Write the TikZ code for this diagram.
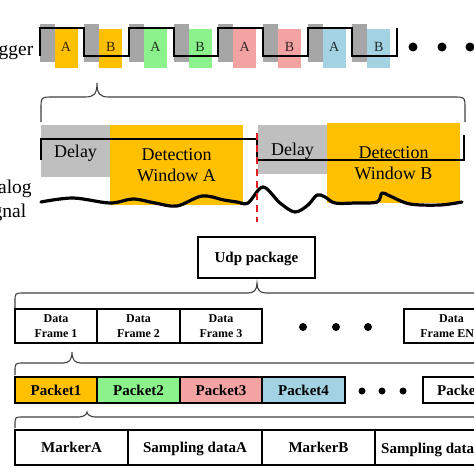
\documentclass[tikz,border=0pt]{standalone}
\usepackage{fontspec}
\setmainfont{Liberation Serif}
\definecolor{cOrange}{HTML}{FFC000}
\definecolor{cGreen}{HTML}{8CF28C}
\definecolor{cPink}{HTML}{F4A3A3}
\definecolor{cBlue}{HTML}{A3D3E2}
\definecolor{cGrayT}{HTML}{A6A6A6}
\definecolor{cGrayD}{HTML}{BFBFBF}
\definecolor{cBrace}{HTML}{404040}
\definecolor{cRed}{HTML}{E02020}
\tikzset{
  tgray/.style={fill=cGrayT, draw=none, minimum width=15pt, minimum height=38pt, inner sep=0pt, outer sep=0pt, anchor=north west},
  tcol/.style={fill=#1, draw=none, minimum width=23pt, minimum height=39pt, inner sep=0pt, outer sep=0pt, anchor=north west,
    font=\fontsize{14}{16}\selectfont, text height=9.5pt, text depth=3.5pt, text=black!80!#1},
  sqline/.style={line width=2pt, black},
  lbl/.style={inner sep=0pt, font=\fontsize{19.5}{22}\selectfont},
  delaybox/.style={fill=cGrayD, draw=none, inner sep=0pt, outer sep=0pt, anchor=north west, minimum width=69pt,
    font=\fontsize{18}{21}\selectfont, text height=12.2pt, text depth=0pt},
  winbox/.style={fill=cOrange, draw=none, inner sep=0pt, outer sep=0pt, anchor=north west, minimum width=133pt, minimum height=80pt,
    align=center, font=\fontsize{18}{21}\selectfont},
  wave/.style={line width=3.2pt, black, line cap=round, line join=round},
  bracel/.style={line width=1.1pt, cBrace},
  bbox/.style={draw, line width=1.5pt, fill=white, inner sep=0pt, outer sep=0pt, anchor=north west,
    font=\bfseries\fontsize{15}{18}\selectfont, text height=10.5pt, text depth=0pt},
  btext/.style={anchor=base west, inner sep=0pt, font=\bfseries\fontsize{15}{18}\selectfont},
  dfbox/.style={draw, line width=1.5pt, fill=white, inner sep=0pt, outer sep=0pt, anchor=north west,
    minimum width=82pt, minimum height=34pt, align=center, font=\bfseries\fontsize{12}{15}\selectfont},
  dotc/.style={black}
}
\newcommand\bracepath[7]{% L R Y B T Yt r
  \draw[bracel] (#1,#4) -- (#1,#3+#7) .. controls (#1,#3) .. (#1+#7,#3) -- (#5-#7,#3)
    .. controls (#5-3,#3) and (#5,#3-3) .. (#5,#6)
    .. controls (#5,#3-3) and (#5+3,#3) .. (#5+#7,#3) -- (#2-#7,#3)
    .. controls (#2,#3) .. (#2,#3+#7) -- (#2,#4);}
\begin{document}
\begin{tikzpicture}[x=1pt,y=-1pt]
\useasboundingbox (0,0) rectangle (474,474);
\clip (0,0) rectangle (474,474);
\fill[white] (0,0) rectangle (474,474);

% ---------- trigger row ----------
\foreach \i/\c/\l in {0/cOrange/A,1/cOrange/B,2/cGreen/A,3/cGreen/B,4/cPink/A,5/cPink/B,6/cBlue/A,7/cBlue/B}{
  \pgfmathsetmacro\ex{39.5+44.7*\i}
  \node[tgray] (g\i) at (\ex,24) {};
  \node[tcol=\c] (c\i) at (\ex+15,29) {\l};
}
\draw[sqline] (39.5,56) -- (39.5,28) -- (84.2,28) -- (84.2,56) -- (128.9,56) -- (128.9,28) -- (173.6,28) -- (173.6,56)
  -- (218.3,56) -- (218.3,28) -- (263,28) -- (263,56) -- (307.7,56) -- (307.7,28) -- (352.4,28) -- (352.4,56)
  -- (397.1,56) -- (397.1,28);
\fill[dotc] (413,47) circle (4.5) (442,47) circle (4.5) (470,47) circle (4.5);
\node[lbl, anchor=base east] (trig) at (33.5,55.5) {Trigger};

% ---------- brace over first period ----------
\bracepath{41}{465}{97}{122}{97}{83}{12}

% ---------- delay / detection windows ----------
\node[delaybox, minimum height=52pt] (d1) at (41,125) {Delay};
\node[winbox] (wA) at (110,125) {Detection\\Window A};
\node[delaybox, minimum height=49pt] (d2) at (258,125) {Delay};
\node[winbox] (wB) at (327,123) {Detection\\Window B};
\draw[sqline] (41,160) -- (41,139) -- (257,139) -- (257,160) -- (464,160) -- (464,135);
\draw[wave] plot[smooth, tension=0.55] coordinates {(41,202) (73,198) (110,203) (133,199) (155,203) (177,206) (202,196)
  (224,200) (237,202) (248,203) (263,187) (280,203) (295,212) (308,205) (317,195) (325,197) (335,203) (355,203)
  (377,202) (382,193) (390,196) (410,204) (440,205) (462,202)};
\draw[cRed, line width=1.4pt, dash pattern=on 7pt off 5pt] (257,133) -- (257,222);
\node[lbl, anchor=base] (an1) at (3,193) {Analog};
\node[lbl, anchor=base] (an2) at (3,217) {signal};

% ---------- UDP package ----------
\node[bbox, minimum width=117pt, minimum height=41pt] (udp) at (198,237) {Udp package};
\bracepath{15}{520}{293}{308}{257}{283}{9}
\node[dfbox] (df1) at (15,309) {Data\\Frame 1};
\node[dfbox, minimum width=83pt] (df2) at (97,309) {Data\\Frame 2};
\node[dfbox] (df3) at (180,309) {Data\\Frame 3};
\fill[dotc] (303,327) circle (4) (336,327) circle (4) (368,327) circle (4);
\node[dfbox, minimum width=95pt] (dfe) at (404,309) {Data\\Frame END};

% ---------- packets ----------
\bracepath{15}{520}{363}{375}{72}{352}{9}
\node[bbox, fill=cOrange, minimum width=82pt, minimum height=26pt] (p1) at (15,377) {Packet1};
\node[bbox, fill=cGreen, minimum width=83pt, minimum height=26pt] (p2) at (97,377) {Packet2};
\node[bbox, fill=cPink, minimum width=82pt, minimum height=26pt] (p3) at (180,377) {Packet3};
\node[bbox, fill=cBlue, minimum width=83pt, minimum height=26pt] (p4) at (262,377) {Packet4};
\fill[dotc] (362,391) circle (3.5) (382,391) circle (3.5) (403,391) circle (3.5);
\node[bbox, minimum width=100pt, minimum height=26pt] (pe) at (423,377) {};
\node[btext] (pet) at (437,395.5) {Packet};

% ---------- markers ----------
\bracepath{15}{520}{417}{428}{87}{412}{8}
\node[bbox, minimum width=113pt, minimum height=35pt] (mA) at (15,430) {MarkerA};
\node[bbox, minimum width=134pt, minimum height=35pt] (sA) at (128,430) {Sampling dataA};
\node[bbox, minimum width=113pt, minimum height=35pt] (mB) at (262,430) {MarkerB};
\node[bbox, minimum width=134pt, minimum height=35pt] (sB) at (375,430) {};
\node[btext] (sBt) at (381,453) {Sampling dataB};
\end{tikzpicture}
\end{document}
